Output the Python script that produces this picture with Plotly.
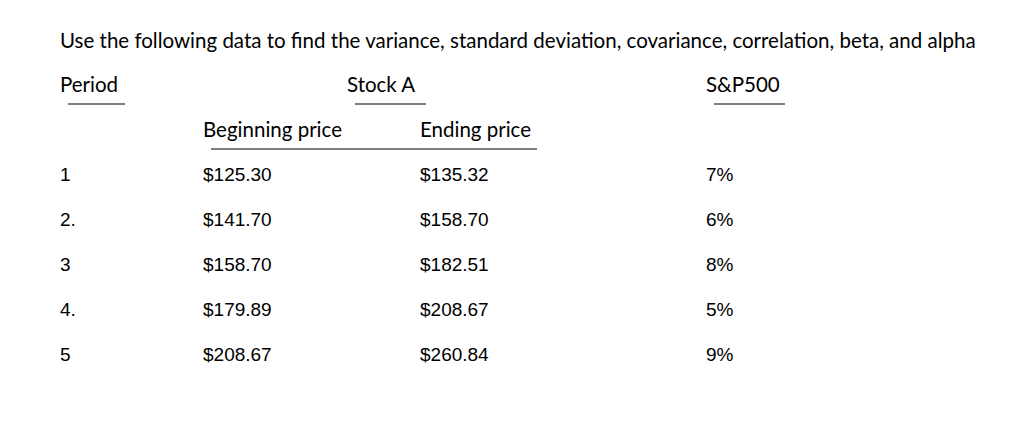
import plotly.graph_objects as go

title = "Use the following data to find the variance, standard deviation, covariance, correlation, beta, and alpha"
periods = ["1", "2.", "3", "4.", "5"]
begin_prices = ["$125.30", "$141.70", "$158.70", "$179.89", "$208.67"]
end_prices = ["$135.32", "$158.70", "$182.51", "$208.67", "$260.84"]
sp500 = ["7%", "6%", "8%", "5%", "9%"]

HF = "Lato, 'Open Sans', sans-serif"
NF = "Liberation Sans, Arial, sans-serif"
DX, DY = -10, -9
fig = go.Figure()
ann = []
def t(x, y, s, font, size=18):
    ann.append(dict(x=x + DX, y=y + DY, xref="x", yref="y", text=s, showarrow=False,
                    xanchor="left", yanchor="middle", font=dict(family=font, size=size, color="black")))
t(60, 41, title, HF, 20.5)
t(60, 85, "Period", HF, 20.5)
t(347, 85, "Stock A", HF, 20.5)
t(706, 85, "S&P500", HF, 20.5)
t(203, 130, "Beginning price", HF, 20.5)
t(420, 130, "Ending price", HF, 20.5)
ys = [175, 220, 265, 310, 355]
for y, p, b, e, s in zip(ys, periods, begin_prices, end_prices, sp500):
    t(60, y, p, NF, 19)
    t(203, y, b, NF, 19)
    t(420, y, e, NF, 19)
    t(706, y, s, NF, 19)
shapes = []
for x0, x1, y in [(60, 117, 96), (347, 418, 96), (706, 777, 96), (203, 529, 141)]:
    shapes.append(dict(type="line", x0=x0, x1=x1, y0=y, y1=y, xref="x", yref="y",
                       line=dict(color="black", width=1.2)))
fig.add_trace(go.Scatter(x=[], y=[]))
fig.update_layout(width=1014, height=427, margin=dict(l=0, r=0, t=0, b=0),
                  paper_bgcolor="white", plot_bgcolor="white", showlegend=False,
                  annotations=ann, shapes=shapes,
                  xaxis=dict(range=[0, 1014], visible=False, fixedrange=True),
                  yaxis=dict(range=[427, 0], visible=False, fixedrange=True))
fig.write_html("out.html", config={"displayModeBar": False})
